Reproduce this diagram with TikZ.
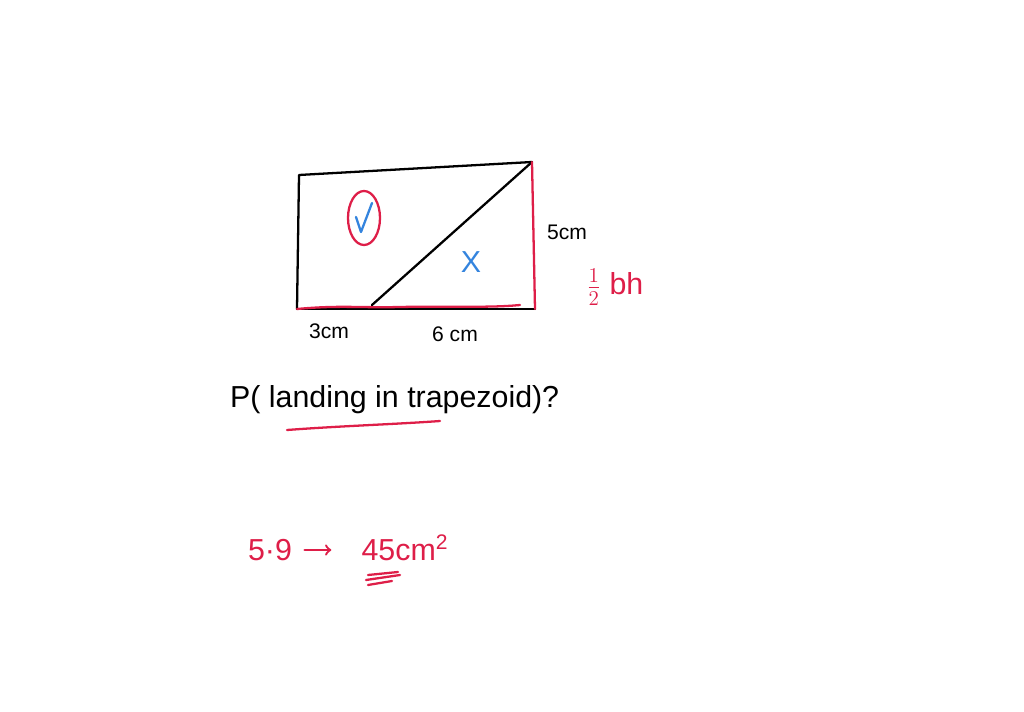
\documentclass[tikz,border=0pt]{standalone}
\usepackage{fontspec}
\setmainfont{Liberation Sans}
\usetikzlibrary{positioning}
\definecolor{penred}{RGB}{222,30,72}
\definecolor{penblue}{RGB}{52,132,222}
\tikzset{
    pen/.style={line width=1.3pt, line cap=round, line join=round},
    redpen/.style={pen, penred},
    bluepen/.style={pen, penblue},
    label/.style={font=\large, inner sep=1pt},
    redlabel/.style={label, text=penred}
}
\begin{document}
\begin{tikzpicture}[x=0.02cm, y=-0.02cm]
    \useasboundingbox (0,0) rectangle (1024,712);
    
    % Rectangle with diagonal
    \coordinate (tl) at (299,175);
    \coordinate (tr) at (532,162);
    \coordinate (br) at (535,309);
    \coordinate (bl) at (297,309);
    \coordinate (cut) at (372,305);
    \draw[pen] (bl) -- (tl) -- (tr);
    \draw[pen] (cut) -- (tr);
    \draw[pen] (bl) -- (br);
    
    % Red highlights of base and height
    \draw[redpen] (tr) -- (br);
    \draw[redpen] (bl) .. controls (340,305) and (360,308) .. (400,307)
        .. controls (450,306) and (490,308) .. (520,305);
    
    % Marks inside the shapes
    \draw[redpen] (364,218) ellipse (16 and 27);
    \draw[bluepen] (356,217) -- (361,232) -- (372,203);
    \node[font=\LARGE, text=penblue, inner sep=0pt] (cross) at (471,262) {X};
    
    % Measurements
    \node[label] (height) at (567,232) {5cm};
    \node[label] (left) at (329,331) {3cm};
    \node[label] (right) at (455,334) {6 cm};
    \node[redlabel, font=\LARGE] (formula) at (615,287) {$\frac{1}{2}$ bh};
    
    % Question
    \node[font=\LARGE, anchor=west, inner sep=1pt] (question) at (228,400) {P( landing in trapezoid)?};
    \draw[redpen] (287,430) .. controls (340,426) and (400,424) .. (440,421);
    
    % Working
    \node[redlabel, font=\LARGE] (product) at (270,550) {5·9};
    \node[redlabel, font=\LARGE] (area) at (405,548) {45cm\textsuperscript{2}};
    \draw[redpen, ->, shorten <=6pt, shorten >=16pt] (product) -- (area.west |- product);
    \draw[redpen] (368,575) -- (398,572);
    \draw[redpen] (366,580) -- (400,575);
    \draw[redpen] (368,585) -- (392,581);
\end{tikzpicture}
\end{document}
